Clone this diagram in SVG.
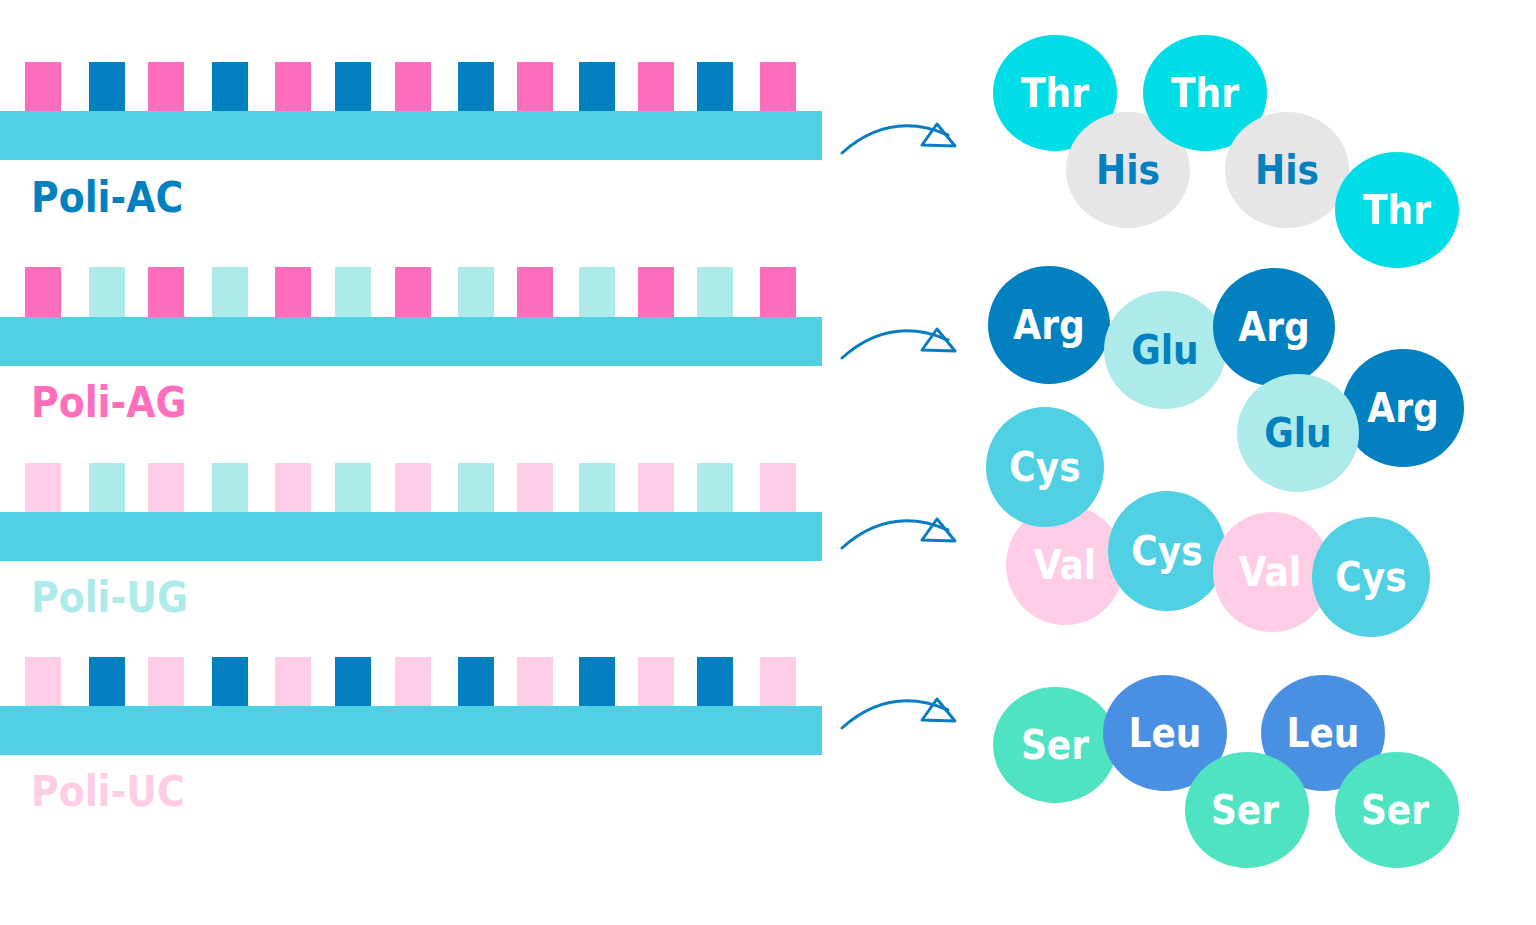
<svg xmlns="http://www.w3.org/2000/svg" width="1536" height="925" viewBox="0 0 1536 925">
<style>
.t{font-family:"DejaVu Sans",sans-serif;font-weight:bold;font-stretch:condensed;text-anchor:middle;font-size:40px}
.l{font-family:"DejaVu Sans",sans-serif;font-weight:bold;font-stretch:condensed;font-size:42px}
.bar{fill:#50D0E3}
.a{fill:none;stroke:#0A7CC1;stroke-width:3;stroke-linecap:round;stroke-linejoin:round}
.pk{fill:#FF6EBD}.db{fill:#0280BF}.lc{fill:#ADEAEA}.lp{fill:#FFCDE6}
</style>
<defs>
<g id="arr"><path class="a" d="M842,153 Q890,110 948,135"/><path class="a" d="M937,124 L922,145 L955,146 Z"/></g>
<g id="sq13">
<rect x="25" width="36" height="50"/><rect x="148" width="36" height="50"/><rect x="275" width="36" height="50"/><rect x="395" width="36" height="50"/><rect x="517" width="36" height="50"/><rect x="638" width="36" height="50"/><rect x="760" width="36" height="50"/>
</g>
<g id="sq6">
<rect x="89" width="36" height="50"/><rect x="212" width="36" height="50"/><rect x="335" width="36" height="50"/><rect x="458" width="36" height="50"/><rect x="579" width="36" height="50"/><rect x="697" width="36" height="50"/>
</g>
</defs>
<g id="strand1"><use href="#sq13" y="62" class="pk"/><use href="#sq6" y="62" class="db"/><rect class="bar" x="0" y="111" width="822" height="49"/><text class="l" x="31" y="212" fill="#0280BF">Poli-AC</text></g>
<g id="strand2"><use href="#sq13" y="267" class="pk"/><use href="#sq6" y="267" class="lc"/><rect class="bar" x="0" y="317" width="822" height="49"/><text class="l" x="31" y="417" fill="#FF6EBD">Poli-AG</text></g>
<g id="strand3"><use href="#sq13" y="463" class="lp"/><use href="#sq6" y="463" class="lc"/><rect class="bar" x="0" y="512" width="822" height="49"/><text class="l" x="31" y="612" fill="#ADEAEA">Poli-UG</text></g>
<g id="strand4"><use href="#sq13" y="657" class="lp"/><use href="#sq6" y="657" class="db"/><rect class="bar" x="0" y="706" width="822" height="49"/><text class="l" x="31" y="806" fill="#FFCDE6">Poli-UC</text></g>
<g id="connectors"><use href="#arr"/><use href="#arr" y="205"/><use href="#arr" y="395"/><use href="#arr" y="575"/></g>
<g id="thr1"><ellipse cx="1055" cy="93" rx="62" ry="58" fill="#00DDE6"/><text class="t" x="1055" y="107" fill="#fff">Thr</text></g>
<g id="his1"><ellipse cx="1128" cy="170" rx="62" ry="58" fill="#E6E6E6"/><text class="t" x="1128" y="184" fill="#0280BF">His</text></g>
<g id="thr2"><ellipse cx="1205" cy="93" rx="62" ry="58" fill="#00DDE6"/><text class="t" x="1205" y="107" fill="#fff">Thr</text></g>
<g id="his2"><ellipse cx="1287" cy="170" rx="62" ry="58" fill="#E6E6E6"/><text class="t" x="1287" y="184" fill="#0280BF">His</text></g>
<g id="thr3"><ellipse cx="1397" cy="210" rx="62" ry="58" fill="#00DDE6"/><text class="t" x="1397" y="224" fill="#fff">Thr</text></g>
<g id="arg1"><ellipse cx="1049" cy="325" rx="61" ry="59" fill="#0280BF"/><text class="t" x="1049" y="339" fill="#fff">Arg</text></g>
<g id="glu1"><ellipse cx="1165" cy="350" rx="61" ry="59" fill="#ADEAEA"/><text class="t" x="1165" y="364" fill="#0280BF">Glu</text></g>
<g id="arg2"><ellipse cx="1274" cy="327" rx="61" ry="59" fill="#0280BF"/><text class="t" x="1274" y="341" fill="#fff">Arg</text></g>
<g id="arg3"><ellipse cx="1403" cy="408" rx="61" ry="59" fill="#0280BF"/><text class="t" x="1403" y="422" fill="#fff">Arg</text></g>
<g id="glu2"><ellipse cx="1298" cy="433" rx="61" ry="59" fill="#ADEAEA"/><text class="t" x="1298" y="447" fill="#0280BF">Glu</text></g>
<g id="val1"><ellipse cx="1065" cy="565" rx="59" ry="60" fill="#FFCDE6"/><text class="t" x="1065" y="579" fill="#fff">Val</text></g>
<g id="cys1"><ellipse cx="1045" cy="467" rx="59" ry="60" fill="#50D0E3"/><text class="t" x="1045" y="481" fill="#fff">Cys</text></g>
<g id="cys2"><ellipse cx="1167" cy="551" rx="59" ry="60" fill="#50D0E3"/><text class="t" x="1167" y="565" fill="#fff">Cys</text></g>
<g id="val2"><ellipse cx="1272" cy="572" rx="59" ry="60" fill="#FFCDE6"/><text class="t" x="1270" y="586" fill="#fff">Val</text></g>
<g id="cys3"><ellipse cx="1371" cy="577" rx="59" ry="60" fill="#50D0E3"/><text class="t" x="1371" y="591" fill="#fff">Cys</text></g>
<g id="ser1"><ellipse cx="1055" cy="745" rx="62" ry="58" fill="#50E3C2"/><text class="t" x="1055" y="759" fill="#fff">Ser</text></g>
<g id="leu1"><ellipse cx="1165" cy="733" rx="62" ry="58" fill="#4A90E2"/><text class="t" x="1165" y="747" fill="#fff">Leu</text></g>
<g id="leu2"><ellipse cx="1323" cy="733" rx="62" ry="58" fill="#4A90E2"/><text class="t" x="1323" y="747" fill="#fff">Leu</text></g>
<g id="ser2"><ellipse cx="1247" cy="810" rx="62" ry="58" fill="#50E3C2"/><text class="t" x="1245" y="824" fill="#fff">Ser</text></g>
<g id="ser3"><ellipse cx="1397" cy="810" rx="62" ry="58" fill="#50E3C2"/><text class="t" x="1395" y="824" fill="#fff">Ser</text></g>
</svg>
